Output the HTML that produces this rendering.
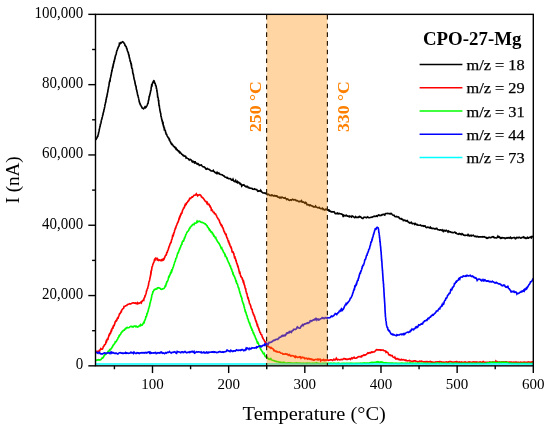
<!DOCTYPE html>
<html lang="en">
<head>
<meta charset="utf-8">
<title>CPO-27-Mg TG-MS</title>
<style>
html,body{margin:0;padding:0;background:#ffffff;}
body{width:550px;height:430px;overflow:hidden;position:relative;}
</style>
</head>
<body>
<svg width="550" height="430" viewBox="0 0 550 430" style="position:absolute;left:0;top:0">
<rect x="0" y="0" width="550" height="430" fill="#ffffff"/>
<clipPath id="c"><rect x="95.5" y="14.35" width="437.79999999999995" height="351.5"/></clipPath>
<g clip-path="url(#c)" fill="none" stroke-linejoin="miter" stroke-miterlimit="2.5" stroke-linecap="butt">
<path d="M95.6,139.6 L96.1,139.3 L96.5,138.5 L96.9,137.9 L97.1,137.4 L97.4,136.7 L97.6,136.6 L97.8,136.5 L97.9,135.4 L98.1,134.8 L98.2,134.6 L98.4,134.0 L98.5,133.5 L98.6,132.5 L98.8,132.2 L98.9,131.9 L99.1,130.7 L99.2,130.0 L99.4,129.0 L99.5,128.4 L99.7,127.7 L99.8,127.4 L99.9,126.6 L100.1,126.4 L100.2,125.8 L100.4,124.7 L100.5,123.6 L100.6,123.9 L100.8,123.7 L100.9,123.2 L101.1,121.9 L101.2,121.7 L101.3,120.7 L101.5,119.9 L101.6,120.3 L101.7,119.2 L101.9,118.8 L102.0,118.6 L102.1,117.5 L102.3,117.0 L102.4,116.7 L102.5,116.2 L102.7,115.2 L102.8,115.1 L103.0,114.7 L103.1,113.0 L103.2,113.4 L103.4,112.3 L103.5,111.7 L103.6,112.0 L103.8,111.2 L103.9,109.9 L104.0,109.7 L104.2,109.3 L104.3,108.5 L104.4,108.2 L104.6,107.3 L104.7,106.9 L104.8,106.4 L104.9,105.1 L105.1,104.6 L105.2,104.2 L105.3,103.7 L105.4,102.9 L105.6,102.7 L105.7,102.2 L105.8,101.8 L105.9,101.3 L106.0,99.7 L106.2,99.4 L106.3,99.1 L106.4,97.8 L106.5,97.7 L106.6,97.4 L106.7,97.2 L106.9,96.6 L107.0,95.6 L107.1,95.0 L107.2,94.6 L107.3,94.4 L107.4,93.2 L107.5,92.8 L107.6,92.5 L107.8,91.8 L107.9,91.2 L108.0,90.1 L108.1,89.6 L108.2,88.9 L108.3,88.8 L108.4,88.2 L108.5,87.3 L108.7,86.8 L108.8,86.0 L108.9,85.7 L109.0,84.9 L109.1,84.3 L109.2,83.4 L109.3,83.1 L109.5,81.8 L109.6,81.0 L109.7,81.2 L109.8,80.6 L109.9,80.6 L110.1,80.7 L110.2,79.1 L110.3,78.2 L110.4,78.0 L110.5,77.6 L110.7,77.0 L110.8,76.4 L110.9,76.1 L111.0,75.6 L111.2,74.5 L111.3,73.9 L111.4,73.5 L111.5,72.5 L111.7,72.1 L111.8,71.2 L111.9,71.2 L112.1,70.3 L112.2,69.4 L112.3,68.6 L112.4,68.2 L112.6,67.1 L112.7,67.0 L112.8,67.1 L113.0,65.9 L113.1,66.0 L113.3,64.6 L113.4,64.6 L113.5,63.5 L113.7,63.4 L113.8,62.6 L114.0,60.8 L114.1,61.9 L114.3,61.5 L114.4,60.4 L114.5,59.7 L114.7,59.0 L114.8,58.4 L115.0,58.4 L115.1,57.1 L115.3,56.7 L115.4,55.9 L115.6,55.4 L115.7,54.8 L115.9,55.5 L116.1,54.1 L116.2,53.7 L116.4,52.7 L116.6,51.7 L116.7,51.1 L116.9,50.8 L117.1,50.5 L117.3,49.7 L117.5,49.2 L117.7,48.5 L117.9,48.1 L118.1,48.4 L118.3,47.1 L118.6,46.3 L118.8,46.2 L119.1,45.9 L119.4,43.8 L119.7,44.1 L120.0,43.5 L120.4,42.8 L120.9,43.2 L121.5,42.7 L122.0,42.1 L122.5,41.8 L123.0,42.1 L123.4,42.2 L123.9,42.9 L124.3,43.5 L124.7,44.0 L125.0,45.5 L125.3,45.5 L125.6,46.0 L125.9,46.4 L126.2,46.7 L126.4,47.4 L126.6,48.3 L126.9,48.7 L127.1,49.4 L127.3,50.2 L127.5,51.0 L127.7,51.5 L127.9,51.9 L128.1,52.1 L128.3,52.4 L128.4,53.7 L128.6,54.5 L128.8,54.6 L128.9,55.3 L129.1,56.2 L129.2,57.0 L129.4,57.4 L129.5,57.6 L129.6,58.9 L129.8,58.6 L129.9,59.8 L130.0,60.3 L130.2,61.0 L130.3,61.6 L130.4,62.0 L130.6,61.5 L130.7,61.8 L130.8,63.3 L131.0,63.4 L131.1,64.2 L131.2,64.8 L131.4,64.6 L131.5,65.2 L131.6,67.1 L131.8,67.8 L131.9,68.3 L132.0,68.8 L132.1,68.6 L132.3,68.7 L132.4,69.6 L132.5,70.1 L132.6,70.6 L132.7,72.3 L132.9,72.9 L133.0,73.7 L133.1,73.8 L133.2,74.2 L133.4,74.6 L133.5,75.2 L133.6,76.2 L133.7,76.5 L133.9,77.6 L134.0,78.3 L134.1,79.5 L134.2,78.8 L134.4,79.9 L134.5,80.2 L134.6,80.8 L134.7,80.9 L134.9,81.9 L135.0,83.0 L135.1,83.4 L135.2,83.9 L135.4,84.4 L135.5,85.4 L135.6,85.5 L135.7,85.3 L135.9,86.3 L136.0,86.3 L136.1,86.5 L136.2,88.1 L136.4,89.5 L136.5,89.7 L136.6,89.7 L136.8,90.3 L136.9,91.6 L137.0,91.8 L137.2,92.2 L137.3,92.9 L137.4,93.7 L137.6,94.6 L137.7,95.2 L137.9,95.6 L138.0,95.7 L138.2,96.7 L138.3,97.1 L138.5,98.2 L138.6,98.0 L138.7,98.9 L138.9,99.6 L139.0,99.9 L139.2,101.5 L139.3,102.0 L139.5,102.1 L139.7,103.2 L139.8,103.5 L140.0,103.1 L140.2,104.6 L140.5,104.9 L140.7,105.2 L140.9,105.3 L141.2,106.1 L141.6,106.7 L142.1,107.9 L142.6,108.3 L143.1,108.4 L143.6,108.8 L144.0,108.1 L144.5,107.6 L145.0,106.9 L145.4,107.7 L145.9,107.3 L146.3,106.8 L146.7,106.2 L147.0,105.6 L147.2,105.1 L147.4,104.4 L147.6,103.9 L147.8,103.5 L148.0,103.4 L148.2,102.5 L148.3,101.4 L148.5,100.5 L148.6,100.0 L148.8,99.9 L148.9,98.9 L149.0,97.8 L149.2,97.0 L149.3,96.2 L149.4,96.0 L149.6,95.9 L149.7,95.1 L149.8,94.5 L150.0,94.1 L150.1,93.9 L150.3,92.6 L150.4,92.4 L150.5,91.8 L150.6,91.6 L150.7,90.5 L150.9,90.4 L151.0,89.9 L151.1,88.6 L151.2,87.7 L151.3,87.3 L151.5,86.6 L151.6,85.6 L151.8,85.8 L152.0,85.8 L152.1,84.5 L152.3,83.8 L152.6,83.0 L152.9,82.6 L153.3,81.5 L153.6,81.1 L154.0,81.9 L154.3,81.5 L154.6,82.5 L154.8,83.2 L155.1,83.5 L155.4,84.2 L155.6,85.5 L155.8,85.5 L156.0,85.8 L156.1,86.1 L156.3,87.3 L156.4,88.5 L156.5,88.9 L156.6,88.7 L156.7,89.3 L156.8,90.1 L156.9,91.0 L157.0,91.4 L157.1,91.9 L157.2,92.5 L157.3,92.9 L157.4,93.4 L157.4,94.1 L157.5,94.7 L157.6,95.7 L157.7,97.7 L157.8,96.9 L157.9,97.2 L158.0,97.3 L158.1,98.4 L158.2,98.1 L158.3,98.8 L158.4,100.6 L158.5,100.9 L158.6,100.8 L158.7,100.8 L158.7,102.0 L158.8,102.8 L158.9,103.8 L159.0,105.1 L159.1,105.1 L159.2,105.3 L159.3,105.7 L159.4,106.8 L159.5,107.4 L159.6,107.8 L159.7,108.4 L159.8,108.8 L159.9,110.1 L160.0,110.6 L160.1,111.2 L160.2,111.3 L160.3,112.0 L160.4,112.5 L160.5,113.0 L160.6,113.2 L160.7,113.4 L160.8,114.0 L160.9,115.4 L161.0,116.0 L161.1,116.8 L161.3,117.6 L161.4,117.4 L161.5,118.1 L161.7,119.1 L161.8,119.7 L162.0,120.1 L162.1,121.1 L162.3,121.5 L162.4,121.4 L162.6,122.2 L162.7,123.6 L162.9,123.7 L163.1,123.5 L163.2,125.2 L163.4,125.8 L163.6,126.6 L163.8,126.5 L163.9,127.1 L164.1,127.6 L164.3,129.2 L164.5,129.0 L164.7,130.6 L164.9,129.7 L165.1,130.3 L165.3,130.5 L165.5,131.6 L165.7,132.7 L165.9,132.8 L166.1,134.1 L166.4,134.3 L166.6,134.3 L166.9,135.0 L167.1,135.7 L167.4,136.4 L167.6,136.6 L167.9,137.1 L168.2,137.7 L168.4,137.7 L168.7,137.9 L169.0,139.1 L169.3,139.9 L169.6,139.8 L169.9,140.8 L170.2,141.5 L170.5,141.9 L170.9,143.0 L171.2,143.1 L171.5,144.0 L171.9,143.8 L172.2,144.7 L172.6,144.7 L172.9,145.1 L173.3,146.0 L173.7,146.2 L174.1,146.8 L174.4,147.1 L174.8,147.0 L175.2,147.7 L175.6,148.6 L176.0,149.1 L176.4,148.6 L176.8,149.7 L177.3,149.8 L177.7,150.7 L178.1,150.7 L178.6,150.8 L179.0,151.9 L179.5,152.6 L179.9,152.1 L180.4,152.6 L180.8,153.2 L181.3,153.5 L181.8,154.4 L182.3,154.6 L182.7,154.9 L183.2,155.6 L183.7,155.5 L184.2,156.2 L184.6,156.0 L185.1,156.0 L185.6,156.3 L186.1,158.0 L186.6,157.7 L187.1,158.1 L187.6,158.4 L188.2,158.7 L188.7,159.3 L189.2,160.0 L189.7,159.4 L190.2,159.3 L190.8,159.7 L191.3,160.0 L191.8,161.1 L192.3,161.8 L192.8,161.2 L193.4,161.4 L193.9,162.2 L194.4,162.8 L195.0,161.4 L195.5,162.8 L196.1,162.9 L196.6,163.7 L197.1,163.5 L197.7,164.1 L198.2,163.8 L198.8,164.4 L199.3,165.4 L199.8,165.4 L200.4,165.1 L200.9,165.1 L201.4,165.0 L202.0,165.9 L202.5,166.6 L203.1,166.7 L203.6,166.9 L204.1,166.8 L204.7,167.5 L205.2,167.9 L205.7,168.9 L206.3,169.2 L206.8,168.7 L207.3,168.5 L207.9,169.0 L208.4,169.2 L209.0,169.3 L209.5,169.7 L210.0,169.9 L210.6,170.7 L211.1,170.7 L211.7,170.9 L212.2,171.1 L212.8,170.9 L213.3,170.4 L213.8,171.4 L214.4,171.7 L214.9,172.3 L215.5,172.8 L216.0,172.7 L216.6,173.4 L217.1,172.5 L217.7,173.5 L218.2,173.4 L218.8,173.0 L219.3,173.8 L219.9,174.2 L220.4,174.4 L221.0,174.5 L221.5,174.6 L222.1,174.7 L222.6,175.2 L223.2,175.4 L223.7,176.0 L224.3,176.1 L224.8,176.9 L225.3,177.2 L225.9,177.2 L226.4,177.5 L227.0,178.0 L227.5,177.6 L228.1,178.3 L228.6,178.7 L229.2,178.6 L229.7,178.7 L230.3,178.6 L230.8,179.1 L231.4,180.0 L231.9,180.1 L232.5,180.2 L233.0,179.2 L233.6,180.7 L234.1,181.3 L234.6,181.5 L235.2,181.3 L235.7,180.5 L236.3,182.2 L236.8,182.3 L237.4,181.6 L237.9,182.8 L238.4,182.3 L239.0,182.5 L239.5,183.0 L240.1,184.0 L240.6,183.6 L241.2,184.3 L241.7,186.1 L242.3,185.4 L242.8,185.0 L243.4,185.2 L243.9,184.8 L244.5,185.5 L245.0,186.2 L245.5,186.6 L246.1,186.4 L246.7,186.9 L247.2,186.3 L247.8,186.7 L248.3,187.7 L248.9,187.5 L249.4,188.0 L250.0,188.2 L250.5,188.1 L251.1,188.4 L251.7,188.3 L252.2,188.4 L252.8,189.2 L253.3,189.3 L253.9,189.4 L254.5,188.8 L255.0,189.3 L255.6,189.4 L256.2,189.5 L256.7,189.5 L257.3,190.5 L257.9,191.3 L258.4,191.2 L259.0,190.8 L259.6,191.1 L260.2,191.3 L260.7,190.3 L261.3,191.4 L261.9,192.1 L262.4,192.4 L263.0,193.0 L263.6,193.0 L264.2,192.8 L264.7,193.1 L265.3,193.5 L265.9,193.1 L266.5,193.4 L267.0,194.3 L267.6,194.7 L268.2,194.2 L268.8,194.5 L269.3,195.0 L269.9,195.3 L270.5,195.3 L271.1,195.7 L271.7,195.0 L272.2,195.1 L272.8,195.5 L273.4,195.9 L274.0,196.0 L274.6,195.4 L275.1,195.6 L275.7,196.1 L276.3,195.9 L276.9,195.9 L277.5,197.0 L278.0,197.0 L278.6,197.3 L279.2,197.1 L279.8,197.8 L280.4,197.4 L281.0,198.0 L281.5,197.3 L282.1,197.2 L282.7,197.5 L283.3,197.7 L283.9,198.2 L284.5,198.1 L285.1,197.7 L285.6,198.6 L286.2,198.7 L286.8,199.5 L287.4,198.9 L288.0,199.1 L288.6,199.8 L289.1,200.2 L289.7,200.4 L290.3,199.9 L290.9,199.9 L291.5,200.2 L292.1,199.7 L292.7,199.2 L293.3,199.6 L293.9,200.0 L294.5,199.8 L295.0,199.6 L295.6,200.0 L296.2,200.7 L296.8,200.4 L297.4,200.6 L298.0,201.2 L298.6,201.6 L299.2,201.4 L299.7,201.6 L300.3,201.4 L300.9,201.2 L301.5,200.7 L302.0,202.0 L302.6,202.1 L303.2,201.9 L303.7,202.3 L304.3,202.6 L304.9,203.2 L305.4,202.4 L306.0,202.7 L306.5,203.5 L307.1,204.9 L307.7,204.8 L308.2,204.6 L308.8,205.1 L309.4,205.5 L309.9,204.8 L310.5,204.9 L311.1,205.7 L311.6,205.8 L312.2,206.1 L312.8,206.1 L313.4,207.0 L313.9,207.0 L314.5,206.8 L315.1,206.8 L315.6,206.1 L316.2,207.1 L316.8,207.3 L317.4,207.6 L317.9,207.8 L318.5,207.7 L319.1,207.4 L319.7,208.2 L320.2,208.2 L320.8,208.6 L321.4,208.6 L322.0,208.7 L322.5,208.3 L323.1,209.4 L323.7,209.2 L324.3,209.8 L324.8,210.0 L325.4,209.6 L326.0,209.0 L326.6,209.5 L327.1,209.5 L327.7,210.1 L328.3,210.4 L328.9,209.4 L329.4,211.2 L330.0,211.0 L330.6,211.6 L331.2,211.8 L331.7,211.7 L332.3,211.9 L332.9,211.8 L333.5,211.9 L334.0,211.7 L334.6,212.5 L335.2,213.5 L335.8,213.7 L336.3,213.7 L336.9,213.3 L337.5,213.0 L338.1,213.9 L338.7,213.5 L339.2,213.4 L339.8,213.7 L340.4,213.8 L341.0,213.9 L341.6,214.1 L342.1,214.2 L342.7,214.8 L343.3,217.0 L343.9,215.2 L344.5,215.5 L345.1,215.7 L345.7,215.8 L346.2,215.1 L346.8,215.6 L347.4,216.2 L348.0,216.1 L348.6,216.3 L349.2,216.8 L349.8,216.1 L350.3,216.3 L350.9,216.5 L351.5,217.0 L352.1,216.0 L352.7,216.4 L353.3,216.5 L353.9,217.0 L354.5,217.6 L355.1,217.5 L355.7,216.6 L356.3,217.4 L356.9,217.2 L357.5,217.2 L358.1,217.5 L358.7,217.0 L359.3,216.4 L359.9,217.0 L360.5,216.8 L361.1,217.3 L361.7,218.0 L362.3,218.2 L362.9,218.5 L363.5,217.8 L364.1,217.1 L364.7,217.3 L365.3,217.4 L365.9,217.3 L366.5,217.7 L367.1,217.4 L367.7,216.9 L368.3,217.6 L368.9,217.7 L369.5,217.7 L370.1,217.5 L370.7,217.5 L371.3,217.1 L371.9,217.4 L372.4,217.0 L373.0,216.8 L373.6,216.6 L374.2,216.1 L374.8,216.3 L375.4,216.3 L376.0,216.2 L376.6,215.8 L377.2,216.4 L377.8,215.8 L378.4,215.1 L378.9,215.0 L379.5,215.5 L380.1,215.6 L380.7,215.3 L381.3,215.3 L381.9,214.7 L382.4,214.9 L383.0,214.4 L383.6,214.3 L384.2,214.7 L384.8,215.1 L385.3,213.7 L385.9,213.5 L386.5,213.5 L387.1,213.7 L387.6,213.3 L388.2,213.5 L388.8,213.6 L389.3,213.6 L389.9,213.8 L390.5,213.8 L391.0,213.3 L391.6,213.8 L392.2,214.5 L392.7,215.0 L393.3,215.2 L393.9,215.1 L394.4,216.0 L395.0,216.5 L395.5,216.7 L396.1,216.6 L396.7,216.4 L397.2,217.0 L397.8,217.0 L398.3,216.9 L398.9,217.3 L399.4,218.4 L400.0,218.6 L400.6,218.9 L401.1,218.6 L401.7,219.3 L402.2,219.1 L402.8,219.5 L403.3,220.6 L403.9,220.5 L404.4,220.1 L405.0,220.3 L405.5,220.7 L406.1,221.2 L406.7,220.8 L407.2,220.6 L407.8,221.5 L408.3,222.0 L408.9,222.4 L409.5,223.0 L410.0,222.7 L410.6,222.8 L411.2,222.3 L411.7,223.1 L412.3,223.7 L412.9,223.5 L413.5,223.5 L414.0,223.6 L414.6,224.4 L415.2,223.5 L415.8,223.9 L416.3,224.6 L416.9,224.9 L417.5,224.5 L418.1,225.2 L418.7,225.2 L419.2,225.2 L419.8,225.2 L420.4,225.0 L421.0,225.6 L421.6,225.9 L422.2,225.6 L422.7,225.9 L423.3,226.3 L423.9,225.8 L424.5,226.2 L425.1,226.0 L425.7,227.0 L426.3,227.6 L426.8,227.7 L427.4,227.1 L428.0,227.3 L428.6,227.4 L429.2,227.6 L429.8,228.0 L430.4,227.3 L430.9,228.2 L431.5,228.1 L432.1,228.6 L432.7,228.4 L433.3,228.3 L433.9,228.5 L434.5,228.8 L435.0,228.8 L435.6,228.9 L436.2,228.3 L436.8,228.3 L437.4,229.4 L438.0,229.7 L438.6,229.8 L439.2,230.0 L439.7,230.2 L440.3,229.9 L440.9,229.8 L441.5,230.2 L442.1,230.7 L442.7,230.0 L443.3,231.3 L443.9,230.4 L444.5,230.3 L445.1,231.1 L445.6,230.8 L446.2,230.2 L446.8,230.6 L447.4,231.3 L448.0,232.1 L448.6,231.1 L449.2,231.6 L449.8,231.8 L450.4,231.8 L450.9,232.2 L451.5,232.4 L452.1,232.4 L452.7,232.6 L453.3,232.7 L453.9,232.5 L454.5,232.1 L455.1,232.2 L455.6,233.1 L456.2,232.9 L456.8,233.7 L457.4,234.0 L458.0,234.0 L458.6,234.2 L459.2,233.5 L459.8,233.8 L460.3,233.8 L460.9,234.6 L461.5,234.7 L462.1,233.6 L462.7,234.0 L463.3,234.8 L463.9,235.2 L464.5,235.4 L465.0,235.2 L465.6,235.3 L466.2,235.2 L466.8,235.2 L467.4,235.4 L468.0,234.5 L468.6,235.5 L469.2,235.4 L469.8,235.9 L470.4,235.5 L471.0,235.3 L471.6,235.9 L472.1,235.6 L472.7,235.5 L473.3,235.3 L473.9,235.9 L474.5,236.2 L475.1,236.5 L475.7,236.3 L476.3,236.8 L476.9,236.5 L477.5,236.4 L478.1,236.7 L478.7,237.0 L479.3,236.8 L479.9,236.8 L480.5,236.9 L481.1,237.0 L481.7,236.8 L482.3,237.0 L482.9,236.6 L483.5,236.9 L484.1,236.6 L484.7,237.0 L485.3,237.3 L485.9,237.3 L486.5,238.2 L487.1,237.8 L487.7,238.2 L488.3,237.9 L488.9,237.3 L489.5,237.3 L490.1,237.7 L490.7,237.6 L491.3,237.4 L491.9,237.1 L492.5,236.7 L493.1,237.1 L493.7,236.8 L494.3,237.8 L494.9,237.7 L495.5,237.7 L496.1,238.0 L496.7,238.0 L497.3,237.3 L497.9,236.1 L498.5,237.1 L499.1,236.8 L499.7,237.4 L500.3,238.3 L500.9,237.7 L501.5,238.1 L502.1,237.5 L502.7,237.9 L503.3,237.7 L503.9,237.7 L504.5,238.0 L505.1,238.6 L505.7,238.1 L506.3,238.1 L506.9,237.7 L507.5,238.0 L508.1,237.7 L508.7,237.9 L509.3,237.7 L509.9,238.1 L510.5,237.2 L511.1,237.8 L511.7,238.4 L512.3,237.9 L512.9,237.7 L513.5,237.7 L514.1,237.4 L514.7,237.9 L515.3,238.8 L515.9,238.5 L516.5,237.5 L517.1,237.4 L517.7,237.7 L518.3,237.9 L518.9,237.2 L519.5,237.2 L520.1,237.9 L520.7,238.1 L521.3,238.0 L521.9,237.4 L522.5,237.3 L523.1,237.5 L523.7,237.0 L524.3,237.8 L524.9,237.6 L525.5,238.0 L526.1,238.5 L526.7,238.2 L527.3,237.4 L527.9,238.1 L528.5,238.1 L529.1,237.4 L529.7,237.3 L530.3,237.5 L530.9,237.0 L531.5,237.7 L532.1,236.4 L532.7,236.6 L533.2,236.9" stroke="#000000" stroke-width="1.65"/>
<path d="M95.6,352.5 L96.1,352.5 L96.6,352.3 L97.1,351.3 L97.6,351.7 L98.1,351.9 L98.7,351.2 L99.2,350.5 L99.8,350.7 L100.3,349.3 L100.8,348.6 L101.3,349.1 L101.8,349.2 L102.2,349.2 L102.5,349.0 L102.9,348.0 L103.2,347.0 L103.5,346.6 L103.9,346.0 L104.2,345.7 L104.5,344.7 L104.7,344.7 L105.0,344.6 L105.3,344.2 L105.6,343.7 L105.8,342.6 L106.1,341.6 L106.3,341.0 L106.6,341.4 L106.8,340.8 L107.1,339.9 L107.4,340.4 L107.6,339.1 L107.9,339.8 L108.1,338.1 L108.4,337.1 L108.7,336.7 L108.9,335.4 L109.2,334.6 L109.4,334.2 L109.7,334.5 L109.9,334.0 L110.2,333.6 L110.4,332.9 L110.7,332.9 L110.9,331.6 L111.1,330.9 L111.4,331.2 L111.6,330.9 L111.9,329.6 L112.1,328.3 L112.4,328.2 L112.6,328.0 L112.9,327.3 L113.1,327.5 L113.4,326.1 L113.6,326.2 L113.9,325.4 L114.2,325.4 L114.5,324.4 L114.7,323.9 L115.0,322.5 L115.3,321.6 L115.6,321.4 L115.8,321.0 L116.1,320.6 L116.4,321.0 L116.7,320.7 L117.0,319.5 L117.3,318.5 L117.6,318.1 L117.9,317.6 L118.2,317.8 L118.4,316.9 L118.7,316.4 L119.0,315.5 L119.3,314.4 L119.6,313.6 L119.9,313.6 L120.2,313.5 L120.5,312.8 L120.8,312.0 L121.1,311.5 L121.4,311.6 L121.7,310.2 L122.0,309.8 L122.3,309.4 L122.6,308.8 L122.9,308.7 L123.2,308.5 L123.6,308.2 L124.0,306.6 L124.4,306.7 L124.8,306.4 L125.3,306.0 L125.8,305.7 L126.3,305.5 L126.8,305.5 L127.3,304.6 L127.9,304.4 L128.4,304.2 L129.0,304.0 L129.6,303.7 L130.1,304.1 L130.7,303.7 L131.3,303.7 L131.9,303.2 L132.5,303.0 L133.1,302.8 L133.7,302.8 L134.3,303.2 L134.9,303.1 L135.5,303.0 L136.2,303.7 L136.8,303.4 L137.4,302.7 L137.9,303.8 L138.5,303.2 L139.1,302.9 L139.7,303.2 L140.3,302.7 L140.9,302.1 L141.4,302.7 L141.8,301.3 L142.2,301.2 L142.6,301.1 L142.9,300.3 L143.2,300.1 L143.5,299.8 L143.8,300.0 L144.0,298.4 L144.3,297.9 L144.5,297.7 L144.8,296.9 L145.0,295.9 L145.2,295.9 L145.4,295.3 L145.6,294.7 L145.8,294.2 L146.0,293.5 L146.2,292.7 L146.4,291.8 L146.6,290.7 L146.7,290.7 L146.9,290.4 L147.1,289.6 L147.2,289.2 L147.4,288.4 L147.6,288.8 L147.7,288.3 L147.9,286.7 L148.0,286.5 L148.2,285.9 L148.3,285.8 L148.5,285.2 L148.6,284.1 L148.7,283.2 L148.9,282.6 L149.0,281.6 L149.2,282.0 L149.3,281.1 L149.4,280.7 L149.6,280.2 L149.7,279.9 L149.8,278.7 L150.0,278.3 L150.1,277.3 L150.2,277.1 L150.4,276.2 L150.5,275.8 L150.6,275.3 L150.7,274.7 L150.8,273.3 L150.9,273.4 L151.0,272.4 L151.1,272.5 L151.2,271.1 L151.3,270.7 L151.5,270.0 L151.6,270.6 L151.7,269.1 L151.8,268.6 L151.9,267.6 L152.1,266.7 L152.2,266.6 L152.3,266.5 L152.5,265.9 L152.6,265.5 L152.8,264.6 L153.0,264.1 L153.2,263.4 L153.4,263.1 L153.6,262.9 L153.9,261.9 L154.2,260.8 L154.4,259.9 L154.8,259.3 L155.1,259.7 L155.4,258.4 L155.8,258.1 L156.1,258.3 L156.6,258.5 L157.1,259.6 L157.6,258.9 L158.1,260.1 L158.7,260.5 L159.2,260.1 L159.8,260.0 L160.4,260.5 L161.1,260.7 L161.7,259.6 L162.3,259.3 L162.8,260.3 L163.2,260.1 L163.6,259.2 L163.9,258.1 L164.2,258.6 L164.5,257.7 L164.8,257.3 L165.1,256.2 L165.4,255.6 L165.8,255.1 L166.1,255.1 L166.4,254.7 L166.7,252.7 L166.9,252.5 L167.2,252.9 L167.4,251.6 L167.6,250.8 L167.8,250.6 L168.0,250.1 L168.2,249.5 L168.4,249.0 L168.5,248.3 L168.7,248.0 L168.9,247.6 L169.0,246.7 L169.2,246.3 L169.4,245.9 L169.6,245.8 L169.8,244.9 L170.0,244.0 L170.2,243.8 L170.4,243.3 L170.6,242.9 L170.9,242.3 L171.1,242.3 L171.3,241.3 L171.5,240.1 L171.8,239.3 L172.0,239.1 L172.2,238.4 L172.4,237.5 L172.6,235.7 L172.8,235.8 L173.0,236.1 L173.2,235.8 L173.3,235.5 L173.5,233.9 L173.7,233.9 L173.9,232.8 L174.1,232.7 L174.3,232.0 L174.5,231.1 L174.6,230.5 L174.8,229.7 L175.0,229.3 L175.2,228.6 L175.4,228.7 L175.6,228.2 L175.8,227.9 L175.9,227.1 L176.1,226.3 L176.3,226.0 L176.5,225.5 L176.7,225.2 L176.9,224.8 L177.1,223.7 L177.3,223.5 L177.6,222.9 L177.8,222.2 L178.0,222.1 L178.3,221.8 L178.5,220.7 L178.8,219.8 L179.0,218.6 L179.3,218.7 L179.5,218.0 L179.7,216.8 L180.0,217.0 L180.2,216.4 L180.4,215.5 L180.6,214.8 L180.9,214.1 L181.1,214.2 L181.3,213.2 L181.5,213.2 L181.7,213.7 L182.0,212.5 L182.2,211.8 L182.5,210.8 L182.7,209.8 L183.0,209.4 L183.2,209.1 L183.5,208.2 L183.8,208.3 L184.0,208.1 L184.3,207.6 L184.6,206.0 L184.9,205.5 L185.2,204.7 L185.5,205.2 L185.8,204.8 L186.2,204.3 L186.5,203.2 L186.8,202.7 L187.1,202.7 L187.5,202.1 L187.8,201.3 L188.2,201.2 L188.6,200.9 L189.0,200.2 L189.3,199.3 L189.7,198.4 L190.2,198.7 L190.6,198.6 L191.0,197.8 L191.5,197.5 L192.0,197.0 L192.5,197.1 L193.0,196.5 L193.5,196.0 L194.0,195.3 L194.6,195.2 L195.1,195.2 L195.7,194.7 L196.3,193.8 L196.9,194.8 L197.5,195.7 L198.0,195.0 L198.6,195.3 L199.2,194.9 L199.8,194.7 L200.3,194.9 L200.9,195.4 L201.4,196.8 L201.9,197.0 L202.3,197.7 L202.8,198.0 L203.2,198.1 L203.6,198.6 L204.0,199.3 L204.3,199.8 L204.7,200.4 L205.0,200.9 L205.4,201.2 L205.8,201.3 L206.1,201.9 L206.5,202.2 L206.9,203.2 L207.3,202.5 L207.8,203.5 L208.2,205.1 L208.6,204.4 L209.1,204.4 L209.5,205.5 L209.9,206.5 L210.2,206.3 L210.5,207.1 L210.8,207.5 L211.1,208.0 L211.4,211.2 L211.7,209.5 L212.0,209.7 L212.3,210.3 L212.7,211.0 L213.0,211.6 L213.4,212.3 L213.8,212.4 L214.1,212.4 L214.5,213.6 L214.9,213.6 L215.2,213.9 L215.6,214.0 L215.9,214.6 L216.2,215.1 L216.5,216.0 L216.7,216.1 L217.0,217.0 L217.3,217.6 L217.5,217.8 L217.8,218.2 L218.1,218.7 L218.3,219.7 L218.6,219.1 L218.9,220.1 L219.3,220.5 L219.6,221.7 L219.9,222.8 L220.2,223.0 L220.5,223.8 L220.8,224.2 L221.1,225.4 L221.4,225.7 L221.7,226.0 L221.9,225.5 L222.2,226.0 L222.4,227.3 L222.6,227.4 L222.9,227.7 L223.1,228.5 L223.3,228.7 L223.5,229.9 L223.7,230.4 L223.9,231.2 L224.2,231.3 L224.4,232.1 L224.7,232.2 L224.9,233.1 L225.2,233.6 L225.4,234.2 L225.7,234.4 L226.0,235.0 L226.2,234.8 L226.5,236.6 L226.7,236.9 L227.0,237.9 L227.2,238.3 L227.5,238.5 L227.7,239.5 L228.0,240.3 L228.2,241.0 L228.4,240.7 L228.6,240.9 L228.8,242.0 L229.0,242.3 L229.2,243.6 L229.4,243.5 L229.7,243.8 L229.9,245.2 L230.1,245.7 L230.3,245.3 L230.5,246.6 L230.7,246.7 L231.0,247.6 L231.2,247.5 L231.4,247.9 L231.7,249.4 L231.9,250.6 L232.1,251.7 L232.3,252.1 L232.6,251.9 L232.8,251.9 L233.0,251.9 L233.2,252.5 L233.5,253.0 L233.7,253.8 L233.9,253.8 L234.1,255.4 L234.3,256.1 L234.5,257.3 L234.7,257.2 L234.9,257.1 L235.1,258.3 L235.3,258.3 L235.5,258.9 L235.7,259.3 L235.8,260.8 L236.0,260.9 L236.2,260.9 L236.4,261.9 L236.6,262.9 L236.8,263.3 L237.0,263.8 L237.1,263.8 L237.3,264.5 L237.5,265.3 L237.7,266.2 L237.9,266.1 L238.1,266.7 L238.2,267.8 L238.4,267.5 L238.6,269.1 L238.8,269.6 L239.0,270.5 L239.2,271.6 L239.4,272.5 L239.6,272.3 L239.8,272.2 L240.0,273.0 L240.2,273.9 L240.4,275.0 L240.6,275.5 L240.8,276.3 L241.0,276.2 L241.2,276.4 L241.4,277.1 L241.6,277.4 L241.8,277.7 L242.0,277.7 L242.3,279.1 L242.5,279.1 L242.7,280.0 L242.9,280.1 L243.1,281.4 L243.3,281.3 L243.5,282.2 L243.7,282.0 L243.9,282.9 L244.1,284.2 L244.2,284.2 L244.4,285.1 L244.6,285.7 L244.8,285.8 L244.9,287.2 L245.1,287.8 L245.2,287.9 L245.4,288.7 L245.6,288.7 L245.7,288.7 L245.9,290.4 L246.0,291.0 L246.2,292.4 L246.4,291.9 L246.5,293.2 L246.7,293.8 L246.8,293.3 L247.0,294.1 L247.2,295.2 L247.3,295.6 L247.5,296.5 L247.7,297.4 L247.8,297.3 L248.0,297.6 L248.2,297.7 L248.4,299.1 L248.5,299.1 L248.7,300.0 L248.9,300.8 L249.1,301.0 L249.3,302.7 L249.5,303.3 L249.7,303.9 L249.8,303.5 L250.0,304.1 L250.2,304.5 L250.4,305.3 L250.6,305.5 L250.8,306.8 L251.0,307.4 L251.2,308.1 L251.4,308.3 L251.6,309.2 L251.8,309.3 L252.0,308.9 L252.2,310.1 L252.4,311.1 L252.6,312.2 L252.8,312.4 L253.0,312.8 L253.2,313.4 L253.4,314.3 L253.6,314.3 L253.8,314.6 L254.0,315.1 L254.2,316.1 L254.4,316.3 L254.6,315.9 L254.8,318.1 L255.1,318.4 L255.3,319.3 L255.5,320.0 L255.7,320.8 L255.9,321.3 L256.1,321.1 L256.3,321.7 L256.5,321.9 L256.7,323.5 L256.9,323.8 L257.1,324.8 L257.3,324.6 L257.5,324.6 L257.7,326.4 L257.9,326.6 L258.1,327.0 L258.3,327.6 L258.5,328.6 L258.7,329.0 L258.9,328.9 L259.1,330.1 L259.3,330.2 L259.5,330.7 L259.8,332.1 L260.0,332.4 L260.2,332.5 L260.5,332.7 L260.7,333.9 L261.0,334.5 L261.2,334.6 L261.5,334.1 L261.8,335.3 L262.0,335.8 L262.3,336.9 L262.6,337.6 L262.9,338.3 L263.1,338.3 L263.4,339.0 L263.7,339.6 L264.0,339.9 L264.3,340.5 L264.6,341.4 L264.9,341.5 L265.2,342.1 L265.4,342.1 L265.8,342.8 L266.1,343.0 L266.4,344.1 L266.7,345.2 L267.1,346.0 L267.5,346.2 L267.9,346.4 L268.4,346.6 L268.8,346.8 L269.3,347.1 L269.8,347.6 L270.3,347.4 L270.8,348.2 L271.3,347.6 L271.8,348.0 L272.3,348.6 L272.8,348.7 L273.3,349.3 L273.9,350.6 L274.4,350.3 L274.9,350.8 L275.5,351.4 L276.0,351.5 L276.6,351.2 L277.1,352.0 L277.7,351.8 L278.2,352.0 L278.8,352.2 L279.4,352.0 L280.0,352.4 L280.5,352.9 L281.1,353.2 L281.7,353.2 L282.3,353.3 L282.9,354.2 L283.5,354.1 L284.1,354.2 L284.7,354.1 L285.2,353.7 L285.8,354.0 L286.4,354.3 L287.0,354.0 L287.6,354.3 L288.2,355.2 L288.7,354.7 L289.3,354.5 L289.9,355.4 L290.5,355.9 L291.1,355.5 L291.7,355.9 L292.2,355.7 L292.8,355.6 L293.4,355.9 L294.0,356.2 L294.6,357.0 L295.2,356.3 L295.7,357.3 L296.3,356.5 L296.9,356.9 L297.5,357.4 L298.1,357.5 L298.7,357.1 L299.3,356.7 L299.8,357.2 L300.4,356.9 L301.0,358.2 L301.6,357.4 L302.2,357.6 L302.8,357.3 L303.4,357.7 L304.0,357.6 L304.6,358.6 L305.2,358.3 L305.7,358.5 L306.3,358.2 L306.9,358.5 L307.5,359.1 L308.1,358.6 L308.7,358.5 L309.3,359.2 L309.9,358.7 L310.5,359.0 L311.1,359.4 L311.7,359.0 L312.3,359.8 L312.9,359.5 L313.5,360.1 L314.1,360.1 L314.7,359.7 L315.3,359.5 L315.9,359.3 L316.5,359.6 L317.1,359.8 L317.7,359.2 L318.3,359.8 L318.9,359.2 L319.5,359.3 L320.1,359.2 L320.7,361.0 L321.3,360.1 L321.9,360.1 L322.5,359.9 L323.1,360.3 L323.7,359.5 L324.3,360.1 L324.9,360.6 L325.5,359.9 L326.1,360.0 L326.7,360.2 L327.3,359.7 L327.9,360.1 L328.5,360.4 L329.1,360.3 L329.7,360.0 L330.3,359.8 L330.9,359.8 L331.5,359.8 L332.1,360.1 L332.7,360.5 L333.3,359.8 L333.9,359.2 L334.5,359.9 L335.1,359.9 L335.7,359.3 L336.3,358.2 L336.9,359.3 L337.4,359.9 L338.0,359.4 L338.6,359.5 L339.2,359.7 L339.8,359.9 L340.4,359.6 L341.0,359.6 L341.6,359.3 L342.2,359.6 L342.8,359.5 L343.4,359.0 L344.0,358.4 L344.6,358.7 L345.2,359.2 L345.8,359.0 L346.4,359.3 L347.0,359.2 L347.6,359.4 L348.2,359.1 L348.8,359.1 L349.4,358.6 L350.0,358.7 L350.6,359.3 L351.2,358.3 L351.8,357.9 L352.4,358.6 L353.0,358.1 L353.6,357.5 L354.2,357.3 L354.8,358.2 L355.3,358.2 L355.9,358.2 L356.5,357.9 L357.1,357.8 L357.7,357.0 L358.3,357.0 L358.8,356.6 L359.4,356.6 L360.0,356.7 L360.6,356.8 L361.2,356.1 L361.7,356.6 L362.3,355.7 L362.9,355.5 L363.4,355.4 L364.0,354.9 L364.6,355.3 L365.1,355.2 L365.7,354.7 L366.3,354.6 L366.8,354.0 L367.4,353.4 L367.9,352.9 L368.5,353.3 L369.1,352.8 L369.6,352.6 L370.2,352.9 L370.7,352.9 L371.3,351.9 L371.8,351.8 L372.3,352.3 L372.9,352.1 L373.4,352.0 L374.0,351.9 L374.5,351.7 L375.1,351.0 L375.7,350.6 L376.3,349.7 L376.8,349.6 L377.4,349.7 L378.0,350.0 L378.6,349.8 L379.2,349.9 L379.8,349.8 L380.4,350.3 L381.0,349.9 L381.5,350.1 L382.1,350.1 L382.7,350.0 L383.3,350.0 L383.9,350.7 L384.4,350.8 L385.0,350.9 L385.5,351.1 L386.0,352.2 L386.5,351.6 L386.9,352.0 L387.4,352.5 L387.8,352.5 L388.3,353.5 L388.7,354.6 L389.2,354.9 L389.7,354.9 L390.1,355.3 L390.6,355.1 L391.1,355.6 L391.7,355.5 L392.2,355.5 L392.7,356.7 L393.2,357.1 L393.7,357.4 L394.3,357.7 L394.8,357.1 L395.3,358.3 L395.9,359.1 L396.4,358.9 L397.0,358.5 L397.6,358.7 L398.1,359.3 L398.7,359.2 L399.3,359.7 L399.9,359.5 L400.5,359.9 L401.1,359.9 L401.7,359.3 L402.3,359.8 L402.9,359.7 L403.5,359.6 L404.1,360.0 L404.7,360.1 L405.3,360.5 L405.9,360.0 L406.5,360.6 L407.1,360.9 L407.7,360.7 L408.3,360.7 L408.9,360.6 L409.5,360.4 L410.0,360.9 L410.6,361.0 L411.2,361.2 L411.8,361.6 L412.4,361.3 L413.0,361.2 L413.6,361.4 L414.2,360.8 L414.8,360.8 L415.4,360.9 L416.0,361.2 L416.6,361.5 L417.2,361.5 L417.8,361.8 L418.4,361.7 L419.0,361.4 L419.6,361.2 L420.2,361.3 L420.8,361.3 L421.4,361.2 L422.0,361.4 L422.6,361.5 L423.2,361.7 L423.8,362.0 L424.4,361.9 L425.0,361.6 L425.6,361.8 L426.2,361.6 L426.8,361.8 L427.4,361.6 L428.0,361.8 L428.6,361.8 L429.2,361.9 L429.8,361.6 L430.4,361.5 L431.0,362.0 L431.6,361.9 L432.2,362.1 L432.8,362.0 L433.4,362.2 L434.0,362.4 L434.6,362.2 L435.2,362.2 L435.8,361.8 L436.4,362.0 L437.0,361.9 L437.6,361.8 L438.2,361.8 L438.8,361.9 L439.4,362.0 L440.0,361.5 L440.6,361.7 L441.2,361.8 L441.8,362.2 L442.4,362.1 L443.0,362.2 L443.6,362.1 L444.2,362.3 L444.8,362.2 L445.4,362.0 L446.0,362.0 L446.6,361.9 L447.2,362.1 L447.8,362.2 L448.4,361.9 L449.0,362.1 L449.6,361.5 L450.2,361.5 L450.8,361.6 L451.4,361.9 L452.0,362.0 L452.6,362.1 L453.2,362.0 L453.8,362.2 L454.4,362.0 L455.0,361.7 L455.6,361.7 L456.2,362.3 L456.8,361.6 L457.4,361.9 L458.0,362.3 L458.6,362.2 L459.2,361.9 L459.8,362.1 L460.4,362.3 L461.0,362.3 L461.6,362.0 L462.2,362.2 L462.8,362.3 L463.4,362.3 L464.0,362.3 L464.6,362.0 L465.2,361.8 L465.8,362.2 L466.4,362.5 L467.0,362.4 L467.6,362.3 L468.2,362.6 L468.8,362.0 L469.4,362.3 L470.0,362.0 L470.6,362.2 L471.2,362.2 L471.8,362.4 L472.4,362.1 L473.0,362.0 L473.6,361.8 L474.2,362.1 L474.8,362.1 L475.4,362.2 L476.0,361.9 L476.6,362.0 L477.2,362.4 L477.8,362.1 L478.4,362.2 L479.0,362.2 L479.6,362.0 L480.2,361.8 L480.8,362.2 L481.4,362.2 L482.0,362.4 L482.6,362.0 L483.2,361.5 L483.8,362.0 L484.4,362.2 L485.0,362.4 L485.6,362.4 L486.2,362.2 L486.8,362.2 L487.4,362.3 L488.0,362.2 L488.6,362.2 L489.2,362.2 L489.8,361.9 L490.4,362.2 L491.0,362.4 L491.6,362.2 L492.2,362.1 L492.8,361.9 L493.4,362.1 L494.0,362.5 L494.6,362.3 L495.2,362.1 L495.8,361.1 L496.4,362.0 L497.0,361.7 L497.6,361.8 L498.2,362.3 L498.8,362.2 L499.4,361.9 L500.0,362.3 L500.6,362.3 L501.2,362.0 L501.8,362.3 L502.4,362.0 L503.0,361.9 L503.6,361.9 L504.2,362.0 L504.8,362.2 L505.4,361.9 L506.0,361.9 L506.6,361.9 L507.2,362.2 L507.8,362.2 L508.4,362.4 L509.0,362.1 L509.6,362.0 L510.2,362.1 L510.8,362.1 L511.4,362.0 L512.0,362.3 L512.6,362.5 L513.2,362.2 L513.8,362.4 L514.4,362.5 L515.0,362.1 L515.6,362.1 L516.2,362.0 L516.8,362.3 L517.4,362.3 L518.0,362.3 L518.6,362.3 L519.2,362.6 L519.8,362.5 L520.4,362.2 L521.0,362.3 L521.6,362.4 L522.2,362.5 L522.8,362.3 L523.4,362.2 L524.0,362.1 L524.6,362.0 L525.2,362.2 L525.8,362.2 L526.4,362.3 L527.0,362.2 L527.6,362.2 L528.2,361.8 L528.8,362.0 L529.4,362.2 L530.0,362.1 L530.6,362.2 L531.2,362.0 L531.8,362.2 L532.4,361.9 L533.0,361.9 L533.2,362.1" stroke="#ff0000" stroke-width="1.65"/>
<path d="M95.6,360.7 L96.2,360.3 L96.7,360.0 L97.3,360.1 L97.9,359.8 L98.5,359.7 L99.1,360.1 L99.7,359.9 L100.3,359.9 L100.8,359.5 L101.3,359.1 L101.8,358.5 L102.2,357.9 L102.6,358.1 L103.1,357.6 L103.5,357.1 L103.9,356.2 L104.3,355.3 L104.7,354.7 L105.1,354.7 L105.5,354.6 L106.0,353.8 L106.4,353.6 L106.8,353.4 L107.3,352.6 L107.7,352.0 L108.1,351.5 L108.6,351.9 L109.0,351.2 L109.4,350.5 L109.8,349.1 L110.2,349.9 L110.5,349.8 L110.9,348.9 L111.3,348.4 L111.6,348.2 L112.0,347.2 L112.3,347.0 L112.7,346.6 L113.0,345.3 L113.3,345.0 L113.7,344.8 L114.0,344.3 L114.3,343.8 L114.7,343.5 L115.0,343.0 L115.3,341.8 L115.7,341.9 L116.0,341.7 L116.3,341.5 L116.6,341.0 L117.0,339.8 L117.3,339.6 L117.6,339.1 L117.9,338.2 L118.2,337.6 L118.5,337.3 L118.8,337.1 L119.1,335.8 L119.5,335.9 L119.8,335.2 L120.1,334.7 L120.4,334.5 L120.8,333.9 L121.1,332.9 L121.5,332.4 L121.9,332.1 L122.3,331.3 L122.7,331.3 L123.1,330.7 L123.5,330.4 L123.9,330.1 L124.4,330.1 L124.8,329.3 L125.3,328.7 L125.8,328.8 L126.3,327.9 L126.8,327.6 L127.3,327.4 L127.8,327.9 L128.4,327.8 L129.0,327.5 L129.6,327.1 L130.2,326.6 L130.8,326.3 L131.4,326.4 L132.0,326.8 L132.6,326.7 L133.2,327.0 L133.8,326.3 L134.4,326.1 L135.0,326.1 L135.6,326.7 L136.2,326.2 L136.8,326.8 L137.4,327.0 L138.0,326.6 L138.6,326.6 L139.2,325.8 L139.8,325.9 L140.4,324.7 L140.9,325.6 L141.5,325.2 L141.9,324.7 L142.3,324.9 L142.7,324.4 L143.0,323.6 L143.4,323.2 L143.7,322.2 L144.0,322.1 L144.3,322.3 L144.5,320.9 L144.8,320.4 L145.0,319.7 L145.3,319.5 L145.5,318.6 L145.7,317.7 L145.9,316.0 L146.1,316.6 L146.3,316.6 L146.5,315.9 L146.7,315.7 L146.8,314.9 L147.0,313.2 L147.2,313.9 L147.4,313.3 L147.5,312.6 L147.7,312.2 L147.9,311.8 L148.0,311.0 L148.2,310.9 L148.4,309.8 L148.6,308.6 L148.7,308.5 L148.9,307.9 L149.0,307.3 L149.2,307.0 L149.4,306.1 L149.5,305.7 L149.7,305.7 L149.8,304.2 L150.0,303.2 L150.1,302.9 L150.3,302.8 L150.4,302.0 L150.6,301.1 L150.7,300.8 L150.9,300.3 L151.0,299.8 L151.2,299.3 L151.3,298.3 L151.4,297.8 L151.6,297.3 L151.7,296.7 L151.8,294.9 L152.0,295.3 L152.1,294.7 L152.2,294.7 L152.4,294.3 L152.5,293.7 L152.7,292.8 L152.9,291.8 L153.1,291.8 L153.4,291.1 L153.6,290.6 L154.0,289.9 L154.3,289.6 L154.7,289.8 L155.1,289.4 L155.6,288.9 L156.2,289.2 L156.8,289.0 L157.4,287.8 L158.0,287.9 L158.6,287.6 L159.2,288.0 L159.7,288.1 L160.3,288.5 L160.9,289.2 L161.5,289.3 L162.1,289.1 L162.7,288.9 L163.3,288.7 L163.8,288.5 L164.2,288.2 L164.5,287.7 L164.9,287.2 L165.1,286.3 L165.4,286.5 L165.7,286.2 L165.9,285.0 L166.1,284.0 L166.4,283.9 L166.6,282.6 L166.8,281.4 L167.1,281.8 L167.3,281.5 L167.6,280.8 L167.8,280.4 L168.1,279.5 L168.3,278.7 L168.5,277.5 L168.8,276.8 L169.0,277.1 L169.2,276.8 L169.5,275.7 L169.7,275.4 L169.9,275.2 L170.2,274.0 L170.4,273.4 L170.6,273.6 L170.8,273.2 L171.1,272.3 L171.3,271.3 L171.5,271.5 L171.7,270.6 L171.9,270.8 L172.1,270.0 L172.4,269.4 L172.6,268.7 L172.8,267.8 L173.0,267.6 L173.2,267.1 L173.4,266.5 L173.6,266.1 L173.8,265.0 L174.0,264.7 L174.2,264.0 L174.4,263.1 L174.6,262.5 L174.8,262.0 L175.0,261.6 L175.2,261.2 L175.4,260.7 L175.6,259.8 L175.7,259.1 L175.9,258.3 L176.2,258.1 L176.4,258.0 L176.6,257.4 L176.8,256.7 L177.0,255.7 L177.2,254.9 L177.4,254.3 L177.6,253.5 L177.8,253.1 L178.0,253.1 L178.3,252.4 L178.5,252.7 L178.7,251.2 L178.9,250.9 L179.1,250.2 L179.4,249.8 L179.6,248.8 L179.8,248.8 L180.0,248.2 L180.2,247.4 L180.5,247.2 L180.7,246.8 L180.9,245.7 L181.2,245.4 L181.4,244.8 L181.6,244.2 L181.9,244.2 L182.1,242.3 L182.3,242.1 L182.6,241.3 L182.8,241.4 L183.1,241.4 L183.3,241.9 L183.5,240.5 L183.8,240.2 L184.0,240.0 L184.3,238.2 L184.5,238.0 L184.8,238.5 L185.0,236.9 L185.3,236.3 L185.5,235.9 L185.8,234.6 L186.1,234.2 L186.3,233.9 L186.6,233.3 L186.9,232.3 L187.2,232.1 L187.5,231.6 L187.8,231.4 L188.1,231.2 L188.4,230.7 L188.8,230.1 L189.1,229.0 L189.5,228.4 L189.8,228.4 L190.2,227.2 L190.6,227.1 L191.0,226.5 L191.4,226.0 L191.8,225.9 L192.2,225.1 L192.7,224.6 L193.1,224.3 L193.5,224.2 L194.0,224.6 L194.5,223.3 L195.0,223.4 L195.5,223.2 L196.0,223.2 L196.6,222.3 L197.1,221.2 L197.7,222.0 L198.2,221.3 L198.8,221.4 L199.3,221.1 L199.9,221.4 L200.5,221.6 L201.0,222.2 L201.6,222.4 L202.2,222.3 L202.8,222.7 L203.3,222.8 L203.9,223.1 L204.4,223.5 L204.9,223.8 L205.3,223.8 L205.7,224.4 L206.2,225.0 L206.6,225.3 L207.0,225.6 L207.4,226.8 L207.7,226.9 L208.1,227.6 L208.5,228.1 L208.8,228.8 L209.2,228.8 L209.5,230.2 L209.9,230.0 L210.2,230.1 L210.6,231.0 L210.9,231.9 L211.3,231.7 L211.6,231.7 L212.0,232.3 L212.3,233.4 L212.6,233.2 L213.0,233.9 L213.3,234.5 L213.6,235.7 L214.0,235.6 L214.3,236.4 L214.6,236.5 L214.9,236.8 L215.2,237.9 L215.6,238.1 L215.9,237.9 L216.2,239.0 L216.5,239.8 L216.8,239.9 L217.2,240.9 L217.5,241.5 L217.8,241.8 L218.1,242.3 L218.4,242.5 L218.7,243.2 L219.1,243.4 L219.4,244.2 L219.7,244.5 L220.0,245.5 L220.3,246.0 L220.6,246.4 L220.9,247.6 L221.2,248.4 L221.5,248.4 L221.8,248.1 L222.1,249.2 L222.3,249.5 L222.6,250.0 L222.9,250.5 L223.2,251.2 L223.5,252.3 L223.8,252.6 L224.0,252.7 L224.3,253.1 L224.6,253.8 L224.9,254.9 L225.1,255.6 L225.4,255.2 L225.7,256.0 L225.9,256.4 L226.2,256.8 L226.5,257.7 L226.7,258.3 L227.0,258.2 L227.2,258.8 L227.5,260.1 L227.7,260.4 L228.0,261.1 L228.2,261.4 L228.4,262.1 L228.7,262.7 L228.9,263.1 L229.2,263.4 L229.4,264.3 L229.6,264.9 L229.8,265.1 L230.1,266.2 L230.3,266.5 L230.5,266.4 L230.7,267.3 L230.9,267.9 L231.2,268.7 L231.4,269.2 L231.6,269.1 L231.8,269.6 L232.0,271.0 L232.2,271.3 L232.5,272.0 L232.7,272.8 L232.9,273.6 L233.1,273.4 L233.3,274.5 L233.5,274.7 L233.8,275.6 L234.0,276.2 L234.2,275.7 L234.4,276.6 L234.7,277.0 L234.9,277.7 L235.1,278.6 L235.4,279.0 L235.6,279.6 L235.8,280.7 L236.0,281.4 L236.3,281.3 L236.5,281.8 L236.7,283.4 L236.9,283.7 L237.1,283.8 L237.4,284.0 L237.6,284.5 L237.8,285.4 L237.9,285.7 L238.1,286.9 L238.3,287.2 L238.5,287.8 L238.7,287.9 L238.9,288.5 L239.0,288.9 L239.2,290.2 L239.4,290.7 L239.6,291.4 L239.7,292.1 L239.9,292.7 L240.1,293.4 L240.2,293.6 L240.4,293.8 L240.6,294.8 L240.8,295.9 L240.9,295.9 L241.1,296.2 L241.3,296.6 L241.4,297.4 L241.6,297.7 L241.8,298.1 L241.9,299.0 L242.1,300.0 L242.3,300.8 L242.4,301.4 L242.6,301.8 L242.7,302.0 L242.9,302.5 L243.1,303.3 L243.2,303.4 L243.4,304.2 L243.5,303.6 L243.7,305.1 L243.9,305.7 L244.0,306.1 L244.2,307.3 L244.4,307.5 L244.5,308.2 L244.7,308.9 L244.9,309.5 L245.1,310.7 L245.2,310.6 L245.4,311.3 L245.6,311.6 L245.8,312.4 L246.0,312.6 L246.1,313.5 L246.3,313.9 L246.5,314.6 L246.7,315.5 L246.9,315.6 L247.1,316.1 L247.3,316.9 L247.5,318.2 L247.6,318.4 L247.8,318.8 L248.0,319.2 L248.2,319.3 L248.4,320.3 L248.6,321.2 L248.8,321.7 L249.0,322.1 L249.3,322.7 L249.5,323.7 L249.7,324.0 L249.9,323.8 L250.1,324.7 L250.3,325.8 L250.5,326.0 L250.8,326.8 L251.0,326.9 L251.2,328.0 L251.4,328.0 L251.7,328.3 L251.9,329.3 L252.1,330.8 L252.4,330.3 L252.6,330.7 L252.8,331.7 L253.1,332.2 L253.3,333.1 L253.5,333.0 L253.8,333.1 L254.0,334.0 L254.3,334.9 L254.5,335.5 L254.7,336.2 L255.0,335.6 L255.2,336.9 L255.5,337.8 L255.7,338.6 L256.0,339.0 L256.2,339.1 L256.5,339.8 L256.7,340.7 L257.0,341.5 L257.2,342.3 L257.5,342.1 L257.7,342.9 L258.0,342.7 L258.2,343.3 L258.4,343.5 L258.7,344.5 L258.9,344.9 L259.2,345.6 L259.4,346.4 L259.7,346.9 L260.0,347.7 L260.2,348.1 L260.5,348.7 L260.8,349.5 L261.1,349.9 L261.4,350.2 L261.6,350.7 L262.0,351.2 L262.3,351.9 L262.6,352.0 L262.9,353.0 L263.2,353.5 L263.6,353.8 L263.9,353.8 L264.3,353.5 L264.6,355.0 L265.0,356.0 L265.4,356.6 L265.8,356.6 L266.3,356.8 L266.7,357.6 L267.2,357.4 L267.7,358.3 L268.2,358.7 L268.7,358.5 L269.2,359.2 L269.7,359.3 L270.2,359.3 L270.8,358.6 L271.3,359.5 L271.9,360.1 L272.5,360.2 L273.0,360.5 L273.6,360.5 L274.2,360.8 L274.8,361.1 L275.3,361.0 L275.9,361.2 L276.5,361.6 L277.1,361.7 L277.7,361.6 L278.3,361.9 L278.9,362.0 L279.5,362.3 L280.1,362.1 L280.7,362.3 L281.3,362.6 L281.9,362.6 L282.5,362.6 L283.1,362.3 L283.7,362.8 L284.3,362.6 L284.8,362.5 L285.4,362.9 L286.0,363.0 L286.6,363.0 L287.2,363.1 L287.8,362.9 L288.4,362.8 L289.0,362.8 L289.6,362.9 L290.2,363.0 L290.8,362.9 L291.4,363.0 L292.0,363.1 L292.6,363.1 L293.2,363.4 L293.8,363.3 L294.4,363.0 L295.0,363.0 L295.6,363.0 L296.2,362.9 L296.8,363.1 L297.4,363.0 L298.0,363.0 L298.6,363.1 L299.2,363.2 L299.8,363.1 L300.4,363.1 L301.0,363.2 L301.6,363.2 L302.2,363.3 L302.8,363.3 L303.4,363.1 L304.0,363.2 L304.6,363.2 L305.2,363.4 L305.8,363.4 L306.4,363.2 L307.0,363.4 L307.6,363.2 L308.2,363.4 L308.8,363.3 L309.4,363.1 L310.0,363.2 L310.6,363.3 L311.2,363.3 L311.8,363.3 L312.4,363.3 L313.0,363.2 L313.6,363.3 L314.2,363.3 L314.8,363.2 L315.4,363.3 L316.0,363.2 L316.6,362.7 L317.2,363.2 L317.8,363.3 L318.4,363.4 L319.0,363.3 L319.6,363.5 L320.2,363.5 L320.8,363.5 L321.4,363.6 L322.0,363.4 L322.6,363.3 L323.2,363.4 L323.8,363.5 L324.4,363.4 L325.0,363.3 L325.6,363.3 L326.2,363.5 L326.8,363.4 L327.4,363.3 L328.0,363.4 L328.6,363.4 L329.2,363.4 L329.8,363.4 L330.4,363.4 L331.0,363.2 L331.6,363.3 L332.2,363.4 L332.8,363.5 L333.4,363.4 L334.0,363.2 L334.6,363.3 L335.2,363.4 L335.8,363.5 L336.4,363.6 L337.0,363.3 L337.6,363.3 L338.2,363.2 L338.8,363.4 L339.4,363.3 L340.0,363.5 L340.6,363.6 L341.2,363.5 L341.9,363.3 L342.5,363.4 L343.1,363.5 L343.7,363.3 L344.3,363.3 L344.9,363.4 L345.5,363.5 L346.1,363.4 L346.7,363.4 L347.3,363.3 L347.9,363.3 L348.5,363.3 L349.1,363.3 L349.7,363.3 L350.3,363.4 L350.9,363.1 L351.5,363.3 L352.1,363.3 L352.7,363.4 L353.3,363.3 L353.9,363.5 L354.5,363.5 L355.1,363.3 L355.7,363.3 L356.3,363.3 L356.9,363.3 L357.5,363.2 L358.1,363.2 L358.7,363.2 L359.3,363.2 L359.9,363.2 L360.5,363.1 L361.1,363.3 L361.7,363.3 L362.2,363.4 L362.8,363.1 L363.4,363.0 L364.0,363.2 L364.6,362.9 L365.2,363.2 L365.8,363.1 L366.4,363.1 L367.0,363.1 L367.6,363.1 L368.2,363.2 L368.8,363.1 L369.4,362.8 L370.0,362.8 L370.6,362.5 L371.2,362.5 L371.8,362.4 L372.4,362.4 L373.0,362.7 L373.6,362.4 L374.2,362.2 L374.8,362.2 L375.4,362.2 L376.0,362.4 L376.6,362.0 L377.2,361.7 L377.8,362.2 L378.4,361.9 L379.0,362.0 L379.6,362.3 L380.2,362.2 L380.8,361.9 L381.4,362.1 L382.0,362.1 L382.6,362.3 L383.2,362.5 L383.8,362.8 L384.4,362.8 L385.0,362.7 L385.5,362.6 L386.1,362.9 L386.7,362.8 L387.3,363.0 L387.9,363.1 L388.5,363.0 L389.1,363.1 L389.7,363.3 L390.3,363.1 L390.9,363.1 L391.5,363.1 L392.1,363.1 L392.7,363.0 L393.3,363.3 L393.9,363.2 L394.5,363.2 L395.1,363.2 L395.7,363.1 L396.3,363.2 L396.9,363.4 L397.5,363.3 L398.1,363.3 L398.7,363.4 L399.3,363.3 L399.9,363.4 L400.5,363.3 L401.1,363.1 L401.7,363.3 L402.3,363.1 L402.9,363.2 L403.5,363.2 L404.1,363.3 L404.7,363.4 L405.3,363.3 L405.9,363.2 L406.5,363.3 L407.1,363.2 L407.7,363.1 L408.3,363.2 L408.9,363.2 L409.5,363.2 L410.1,362.8 L410.7,363.2 L411.3,363.3 L411.9,363.3 L412.5,363.2 L413.1,363.4 L413.7,363.3 L414.3,363.4 L414.9,363.5 L415.5,363.1 L416.1,363.3 L416.7,363.3 L417.3,363.3 L417.9,363.2 L418.5,363.3 L419.1,363.2 L419.7,363.3 L420.3,363.4 L420.9,363.3 L421.5,363.2 L422.1,363.3 L422.7,363.3 L423.3,363.4 L423.9,363.4 L424.5,363.4 L425.1,363.3 L425.7,363.2 L426.3,363.6 L426.9,363.6 L427.5,363.2 L428.1,363.4 L428.7,363.5 L429.3,363.6 L429.9,363.4 L430.5,363.5 L431.1,363.4 L431.7,363.4 L432.3,363.4 L432.9,363.3 L433.5,363.5 L434.1,363.4 L434.7,363.5 L435.3,363.3 L435.9,363.4 L436.5,363.2 L437.1,363.3 L437.7,363.0 L438.3,363.2 L438.9,363.3 L439.5,363.3 L440.1,363.3 L440.7,363.2 L441.3,363.4 L441.9,363.4 L442.5,363.4 L443.1,363.4 L443.7,363.4 L444.3,363.5 L445.0,363.4 L445.6,363.2 L446.2,363.4 L446.8,363.7 L447.4,363.5 L448.0,363.4 L448.6,363.5 L449.2,363.4 L449.8,363.4 L450.4,363.2 L451.0,363.3 L451.6,363.5 L452.2,363.3 L452.8,363.4 L453.4,363.6 L454.0,363.4 L454.6,363.4 L455.2,363.3 L455.8,363.2 L456.4,363.3 L457.0,363.2 L457.6,363.2 L458.2,363.5 L458.8,363.4 L459.4,363.5 L460.0,363.4 L460.6,363.4 L461.2,363.5 L461.8,363.4 L462.4,363.3 L463.0,363.4 L463.6,363.3 L464.2,363.4 L464.8,363.6 L465.4,363.4 L466.0,363.5 L466.6,363.3 L467.2,363.4 L467.8,363.4 L468.4,363.3 L469.0,363.2 L469.6,363.2 L470.2,363.3 L470.8,363.2 L471.4,363.4 L472.0,363.5 L472.6,363.4 L473.2,363.3 L473.8,363.3 L474.4,363.4 L475.0,363.4 L475.6,363.4 L476.2,363.4 L476.8,363.5 L477.3,363.3 L477.9,363.1 L478.5,363.3 L479.1,363.4 L479.7,363.4 L480.3,363.2 L480.9,363.5 L481.5,363.5 L482.1,363.4 L482.7,363.3 L483.3,363.5 L483.9,363.5 L484.5,363.5 L485.1,363.3 L485.7,363.2 L486.3,363.2 L486.9,363.0 L487.5,363.0 L488.1,362.8 L488.7,362.8 L489.3,362.8 L489.9,362.6 L490.5,362.4 L491.1,362.4 L491.7,362.4 L492.3,362.3 L492.9,362.5 L493.5,362.4 L494.1,362.2 L494.7,362.5 L495.3,362.7 L495.9,362.6 L496.5,362.6 L497.1,362.6 L497.7,362.5 L498.3,362.4 L498.9,362.6 L499.5,362.8 L500.1,362.4 L500.7,362.4 L501.3,362.4 L501.9,362.3 L502.5,362.4 L503.1,362.4 L503.7,362.4 L504.3,362.3 L504.9,362.3 L505.5,362.5 L506.1,362.5 L506.7,362.3 L507.3,362.6 L507.9,362.6 L508.4,363.1 L509.0,363.2 L509.6,363.2 L510.2,363.1 L510.8,363.1 L511.4,363.3 L512.0,363.3 L512.6,363.3 L513.2,363.4 L513.8,363.4 L514.4,363.4 L515.0,363.2 L515.6,363.2 L516.2,363.4 L516.8,363.4 L517.4,363.4 L518.0,363.8 L518.6,363.5 L519.2,363.3 L519.8,363.4 L520.4,363.5 L521.0,363.4 L521.6,363.4 L522.2,363.5 L522.8,363.3 L523.4,363.3 L524.0,363.3 L524.6,363.3 L525.2,363.3 L525.8,363.5 L526.4,363.4 L527.0,363.6 L527.6,363.5 L528.2,363.3 L528.8,363.5 L529.4,363.4 L530.0,363.5 L530.6,363.5 L531.2,363.4 L531.8,363.5 L532.4,363.4 L533.0,363.5 L533.2,363.5" stroke="#00ff00" stroke-width="1.65"/>
<path d="M95.6,352.1 L96.2,352.5 L96.8,352.3 L97.4,353.0 L98.0,353.4 L98.6,352.6 L99.2,352.2 L99.8,353.3 L100.4,353.3 L101.0,354.0 L101.6,353.8 L102.2,353.8 L102.8,353.8 L103.4,353.2 L104.0,353.1 L104.6,352.8 L105.2,353.0 L105.8,353.6 L106.4,353.5 L107.0,352.9 L107.6,352.8 L108.2,353.0 L108.8,352.9 L109.4,353.3 L110.0,353.6 L110.6,352.2 L111.2,352.0 L111.8,353.1 L112.4,352.5 L113.0,352.8 L113.6,352.6 L114.2,353.3 L114.8,353.4 L115.4,353.2 L116.0,353.4 L116.6,353.2 L117.2,353.6 L117.8,354.0 L118.4,353.7 L119.0,352.9 L119.6,352.8 L120.2,352.7 L120.8,353.0 L121.4,353.1 L122.0,352.9 L122.6,353.3 L123.2,353.3 L123.8,353.1 L124.4,353.0 L125.0,353.1 L125.6,352.5 L126.2,353.3 L126.8,352.9 L127.4,353.1 L128.0,353.1 L128.6,353.3 L129.2,353.2 L129.8,353.2 L130.4,352.7 L131.0,352.2 L131.6,352.8 L132.2,352.8 L132.8,352.6 L133.4,353.4 L134.0,352.1 L134.6,352.7 L135.2,353.2 L135.8,353.4 L136.4,353.4 L137.0,352.6 L137.6,352.7 L138.2,353.2 L138.8,353.0 L139.4,353.5 L140.0,353.0 L140.6,352.9 L141.2,353.0 L141.8,352.6 L142.4,352.8 L143.0,352.7 L143.6,352.8 L144.2,352.7 L144.8,353.0 L145.4,352.5 L146.0,352.4 L146.6,353.1 L147.2,352.9 L147.8,352.3 L148.4,352.1 L149.0,352.0 L149.6,353.1 L150.2,352.3 L150.8,353.3 L151.4,352.8 L152.0,353.2 L152.6,353.0 L153.2,352.8 L153.8,353.1 L154.4,352.9 L155.0,352.6 L155.6,352.5 L156.2,353.5 L156.8,353.4 L157.4,352.9 L158.0,352.6 L158.6,352.8 L159.2,352.8 L159.8,353.2 L160.4,352.3 L161.0,352.5 L161.6,352.1 L162.2,353.0 L162.8,353.3 L163.4,352.9 L164.0,353.2 L164.6,353.7 L165.2,353.0 L165.8,352.5 L166.4,353.1 L167.0,352.7 L167.6,352.2 L168.2,352.5 L168.8,352.2 L169.4,351.5 L170.0,352.3 L170.6,352.4 L171.2,353.1 L171.8,352.5 L172.4,352.3 L173.0,352.4 L173.6,352.2 L174.2,351.7 L174.8,352.2 L175.4,352.1 L176.0,353.0 L176.6,353.3 L177.2,351.5 L177.8,351.8 L178.4,351.9 L179.0,352.0 L179.6,352.0 L180.2,352.6 L180.8,352.8 L181.4,351.9 L182.0,351.8 L182.6,351.8 L183.2,352.7 L183.8,352.6 L184.4,351.6 L185.0,351.4 L185.6,352.1 L186.2,352.6 L186.8,352.8 L187.4,352.4 L188.0,352.4 L188.6,352.2 L189.2,351.8 L189.8,352.5 L190.4,351.9 L191.0,351.6 L191.6,351.8 L192.2,351.4 L192.8,352.1 L193.4,352.3 L194.0,351.5 L194.6,353.1 L195.2,352.9 L195.8,352.3 L196.4,351.8 L197.0,352.0 L197.6,352.1 L198.2,351.8 L198.8,351.8 L199.4,352.0 L200.0,352.1 L200.6,352.4 L201.2,351.9 L201.8,352.9 L202.4,352.8 L203.0,352.4 L203.6,352.1 L204.2,352.8 L204.8,352.3 L205.4,353.0 L206.0,353.0 L206.6,352.0 L207.2,352.2 L207.8,353.0 L208.4,352.7 L209.0,352.1 L209.6,352.4 L210.2,352.2 L210.8,352.0 L211.4,352.1 L212.0,351.9 L212.6,351.9 L213.2,352.2 L213.8,351.7 L214.4,352.2 L215.0,352.0 L215.6,352.3 L216.2,352.4 L216.8,352.6 L217.4,352.3 L218.0,352.3 L218.6,351.8 L219.2,351.9 L219.8,351.5 L220.4,351.8 L221.0,352.1 L221.6,352.1 L222.2,352.2 L222.8,351.8 L223.4,352.3 L224.0,351.8 L224.6,351.9 L225.2,351.6 L225.8,351.7 L226.4,351.3 L227.0,350.1 L227.6,350.3 L228.2,350.8 L228.8,350.8 L229.4,351.4 L230.0,351.7 L230.6,350.3 L231.2,350.5 L231.8,351.0 L232.4,351.4 L233.0,351.0 L233.6,351.3 L234.2,350.9 L234.8,350.9 L235.4,351.1 L236.0,350.4 L236.5,349.8 L237.1,350.2 L237.7,350.4 L238.3,350.2 L238.9,350.3 L239.5,350.2 L240.1,349.9 L240.7,350.4 L241.3,350.0 L241.9,349.5 L242.5,349.5 L243.1,350.1 L243.7,350.6 L244.3,350.1 L244.9,350.4 L245.5,349.7 L246.1,348.3 L246.6,349.1 L247.2,348.1 L247.8,348.3 L248.4,348.4 L249.0,349.3 L249.6,348.2 L250.2,348.4 L250.8,348.9 L251.4,348.6 L252.0,347.7 L252.6,348.0 L253.2,347.9 L253.8,348.0 L254.4,348.1 L254.9,347.7 L255.5,347.6 L256.1,348.0 L256.7,346.9 L257.3,347.3 L257.8,347.1 L258.4,346.4 L259.0,346.3 L259.5,346.0 L260.1,346.3 L260.7,346.1 L261.2,346.9 L261.8,346.5 L262.4,345.7 L262.9,345.4 L263.5,345.5 L264.0,345.1 L264.6,344.2 L265.1,345.3 L265.7,344.4 L266.3,344.1 L266.8,343.4 L267.4,344.2 L267.9,345.5 L268.5,343.5 L269.0,342.5 L269.6,342.6 L270.1,342.4 L270.7,342.4 L271.2,342.0 L271.8,341.9 L272.3,341.2 L272.9,341.0 L273.4,340.4 L274.0,340.4 L274.5,340.4 L275.1,339.8 L275.6,339.9 L276.1,339.2 L276.7,339.2 L277.2,339.2 L277.7,339.4 L278.3,338.5 L278.8,338.5 L279.3,337.3 L279.8,337.2 L280.3,337.2 L280.9,337.0 L281.4,336.0 L281.9,335.7 L282.4,336.1 L282.9,335.4 L283.5,335.9 L284.0,335.3 L284.5,335.2 L285.0,335.8 L285.6,335.3 L286.1,334.2 L286.6,333.1 L287.1,333.4 L287.7,332.8 L288.2,332.7 L288.8,332.8 L289.3,331.7 L289.8,332.3 L290.4,331.9 L290.9,331.4 L291.4,332.1 L292.0,331.0 L292.5,330.7 L293.1,330.4 L293.6,329.3 L294.1,329.2 L294.7,329.2 L295.2,329.5 L295.7,329.3 L296.3,328.9 L296.8,328.0 L297.3,326.9 L297.9,327.6 L298.4,327.6 L298.9,328.1 L299.4,328.2 L300.0,328.2 L300.5,327.3 L301.0,326.5 L301.5,325.5 L302.0,325.5 L302.6,324.7 L303.1,325.5 L303.6,324.5 L304.2,324.4 L304.7,323.9 L305.2,323.9 L305.8,323.9 L306.3,323.3 L306.9,323.2 L307.4,322.8 L307.9,323.3 L308.5,322.6 L309.0,322.7 L309.6,322.6 L310.2,320.8 L310.7,320.7 L311.3,320.8 L311.8,321.2 L312.4,320.5 L312.9,320.3 L313.5,319.8 L314.1,320.0 L314.6,319.4 L315.2,319.7 L315.8,318.4 L316.4,318.5 L316.9,320.0 L317.5,319.3 L318.1,319.0 L318.7,319.9 L319.3,319.7 L319.9,319.3 L320.5,318.7 L321.0,318.7 L321.6,318.4 L322.2,317.7 L322.8,318.2 L323.4,317.9 L324.0,318.5 L324.6,318.4 L325.2,317.5 L325.8,317.5 L326.4,318.0 L327.0,318.2 L327.6,317.6 L328.2,317.8 L328.8,317.9 L329.3,317.7 L329.9,317.7 L330.5,317.3 L331.0,316.3 L331.6,316.0 L332.2,316.6 L332.7,316.2 L333.2,316.0 L333.8,315.6 L334.3,314.8 L334.8,314.5 L335.3,313.6 L335.9,313.8 L336.3,313.8 L336.8,314.5 L337.3,313.6 L337.8,313.0 L338.3,312.8 L338.7,312.5 L339.2,311.2 L339.7,311.1 L340.1,310.5 L340.6,311.0 L341.0,309.7 L341.4,308.8 L341.9,309.4 L342.3,311.2 L342.7,308.7 L343.2,309.7 L343.6,308.4 L344.0,307.8 L344.4,306.6 L344.8,305.9 L345.2,305.0 L345.7,304.5 L346.1,303.6 L346.5,304.3 L346.9,303.5 L347.3,303.4 L347.6,303.0 L348.0,302.2 L348.3,302.0 L348.7,301.6 L349.0,301.1 L349.3,300.8 L349.6,300.4 L349.9,299.4 L350.2,298.5 L350.4,298.1 L350.7,298.0 L350.9,298.0 L351.2,297.4 L351.5,296.8 L351.7,296.5 L351.9,295.8 L352.2,295.4 L352.4,294.6 L352.6,293.8 L352.9,292.9 L353.1,292.4 L353.3,292.2 L353.5,290.7 L353.8,290.3 L354.0,289.6 L354.2,289.8 L354.4,289.6 L354.6,288.0 L354.9,285.4 L355.1,287.2 L355.3,286.8 L355.5,285.4 L355.7,285.3 L355.9,285.0 L356.2,284.1 L356.4,284.4 L356.6,283.9 L356.8,283.2 L357.0,282.1 L357.2,281.1 L357.4,281.0 L357.6,280.8 L357.8,279.9 L358.0,280.8 L358.2,279.1 L358.4,277.9 L358.6,278.6 L358.8,277.6 L359.0,276.7 L359.2,276.1 L359.4,274.8 L359.6,274.7 L359.8,273.3 L360.0,273.3 L360.2,273.8 L360.4,273.3 L360.6,271.9 L360.8,271.3 L361.0,271.3 L361.2,270.5 L361.4,270.1 L361.6,269.5 L361.9,268.3 L362.1,268.2 L362.3,266.1 L362.5,267.2 L362.7,265.9 L362.9,265.7 L363.1,265.1 L363.4,265.1 L363.6,264.8 L363.8,264.2 L364.0,263.5 L364.2,262.9 L364.4,262.0 L364.6,260.8 L364.9,259.8 L365.1,259.4 L365.3,260.0 L365.5,259.3 L365.7,258.4 L365.9,258.0 L366.1,257.3 L366.3,256.1 L366.5,255.5 L366.7,255.1 L366.9,255.7 L367.1,254.9 L367.3,253.6 L367.5,253.2 L367.7,253.1 L367.9,252.8 L368.1,251.7 L368.3,251.5 L368.5,251.1 L368.7,249.6 L368.9,249.4 L369.1,249.0 L369.3,248.4 L369.4,249.0 L369.6,248.1 L369.8,246.9 L370.0,246.0 L370.2,245.8 L370.4,245.3 L370.6,244.1 L370.7,243.3 L370.9,242.4 L371.1,242.5 L371.3,242.2 L371.4,241.9 L371.6,241.4 L371.8,240.7 L371.9,239.6 L372.1,239.1 L372.3,239.2 L372.4,238.5 L372.6,237.5 L372.8,237.3 L372.9,237.0 L373.1,236.3 L373.3,235.1 L373.5,234.3 L373.6,234.3 L373.8,234.1 L374.0,233.0 L374.2,232.1 L374.4,231.9 L374.6,230.6 L374.8,230.4 L375.0,229.7 L375.2,230.0 L375.4,229.0 L375.7,228.8 L376.1,229.0 L376.6,227.8 L377.2,227.3 L377.6,227.5 L377.9,227.6 L378.1,227.8 L378.2,228.0 L378.4,228.9 L378.5,229.4 L378.6,229.5 L378.7,230.9 L378.8,231.9 L378.9,233.3 L379.0,232.6 L379.1,233.0 L379.2,234.4 L379.3,234.8 L379.4,235.7 L379.5,236.6 L379.5,237.5 L379.6,237.6 L379.7,237.7 L379.7,239.0 L379.8,239.2 L379.9,239.7 L379.9,241.3 L380.0,241.3 L380.1,241.0 L380.1,241.6 L380.2,242.3 L380.2,242.7 L380.3,243.2 L380.3,244.6 L380.4,245.5 L380.5,245.7 L380.5,245.8 L380.6,246.5 L380.6,247.3 L380.7,247.4 L380.7,248.3 L380.8,248.9 L380.8,250.1 L380.9,250.6 L381.0,250.3 L381.0,251.1 L381.1,252.4 L381.1,252.1 L381.2,252.6 L381.2,253.2 L381.2,254.4 L381.3,254.7 L381.3,255.0 L381.4,255.7 L381.4,256.7 L381.5,257.9 L381.5,258.5 L381.6,258.7 L381.6,260.1 L381.7,260.1 L381.7,260.2 L381.8,261.1 L381.8,261.3 L381.9,261.8 L381.9,262.5 L382.0,263.5 L382.0,263.9 L382.0,264.4 L382.1,265.8 L382.1,266.2 L382.2,267.3 L382.2,267.5 L382.3,268.1 L382.3,268.5 L382.4,269.5 L382.4,269.3 L382.4,270.1 L382.5,270.8 L382.5,270.4 L382.6,271.8 L382.6,272.9 L382.7,273.1 L382.7,274.3 L382.8,274.7 L382.8,275.0 L382.8,275.4 L382.9,276.7 L382.9,276.5 L383.0,277.4 L383.0,278.4 L383.1,279.3 L383.1,280.1 L383.2,280.1 L383.2,280.0 L383.3,281.6 L383.3,282.2 L383.4,282.5 L383.4,283.6 L383.5,284.1 L383.5,283.6 L383.5,283.7 L383.6,284.0 L383.6,285.8 L383.6,286.7 L383.7,287.3 L383.7,287.3 L383.8,287.8 L383.8,288.1 L383.8,288.7 L383.9,289.3 L383.9,289.9 L383.9,290.8 L384.0,292.0 L384.0,292.5 L384.0,292.7 L384.1,293.1 L384.1,294.0 L384.1,294.8 L384.2,295.2 L384.2,296.0 L384.2,296.4 L384.3,297.0 L384.3,297.8 L384.4,297.9 L384.4,299.1 L384.4,298.6 L384.5,299.7 L384.5,299.9 L384.6,301.4 L384.6,302.0 L384.6,302.1 L384.7,302.6 L384.7,303.0 L384.8,304.3 L384.8,305.3 L384.8,306.5 L384.9,305.5 L384.9,307.1 L384.9,306.9 L385.0,307.9 L385.0,308.6 L385.0,309.2 L385.0,309.8 L385.1,310.1 L385.1,311.0 L385.1,311.7 L385.2,312.5 L385.2,311.7 L385.2,313.2 L385.3,313.5 L385.3,313.8 L385.4,315.2 L385.4,316.2 L385.5,317.5 L385.5,317.6 L385.6,317.1 L385.6,318.0 L385.7,318.4 L385.8,319.6 L385.8,320.5 L385.9,321.0 L386.0,321.4 L386.0,321.5 L386.1,321.1 L386.2,321.7 L386.3,323.0 L386.4,324.1 L386.5,325.0 L386.6,325.2 L386.8,325.9 L387.0,326.5 L387.1,327.3 L387.3,327.4 L387.6,327.6 L387.8,329.1 L388.0,329.7 L388.3,330.2 L388.5,330.1 L388.8,330.7 L389.2,330.6 L389.6,331.0 L390.0,332.2 L390.4,332.7 L390.8,333.6 L391.3,334.1 L391.8,334.1 L392.3,334.6 L392.8,334.2 L393.3,334.8 L393.9,334.6 L394.5,335.1 L395.1,335.3 L395.7,335.5 L396.3,335.7 L396.9,334.7 L397.5,335.2 L398.1,334.9 L398.7,335.0 L399.3,335.0 L399.9,334.5 L400.5,334.3 L401.1,334.1 L401.7,334.6 L402.2,334.1 L402.8,334.4 L403.4,333.9 L403.9,335.1 L404.5,333.7 L405.0,334.0 L405.6,333.1 L406.1,332.9 L406.7,332.4 L407.2,332.3 L407.7,332.1 L408.3,332.5 L408.8,332.1 L409.4,331.9 L409.9,331.9 L410.4,330.6 L411.0,330.8 L411.5,330.1 L412.0,329.1 L412.5,329.5 L413.1,329.4 L413.6,329.8 L414.1,328.8 L414.6,328.7 L415.1,328.4 L415.6,327.2 L416.2,327.6 L416.7,326.8 L417.2,327.4 L417.7,327.1 L418.2,325.9 L418.7,324.9 L419.2,325.2 L419.6,325.0 L420.1,324.9 L420.6,324.5 L421.1,324.0 L421.6,324.1 L422.1,323.6 L422.6,323.9 L423.1,322.7 L423.5,322.0 L424.0,321.8 L424.5,320.9 L425.0,321.0 L425.5,320.7 L425.9,320.5 L426.4,320.1 L426.9,320.4 L427.4,319.7 L427.8,318.5 L428.3,318.4 L428.8,318.6 L429.2,317.8 L429.7,317.4 L430.1,317.1 L430.6,317.0 L431.1,316.1 L431.5,315.7 L431.9,315.3 L432.4,315.3 L432.8,314.7 L433.3,315.1 L433.7,314.4 L434.2,313.9 L434.6,313.7 L435.1,313.1 L435.5,312.7 L436.0,312.1 L436.4,311.0 L436.9,311.0 L437.3,310.8 L437.8,310.9 L438.2,309.8 L438.6,309.3 L439.0,308.8 L439.4,308.9 L439.8,308.9 L440.2,307.3 L440.6,307.1 L440.9,306.7 L441.3,306.1 L441.7,306.0 L442.0,305.0 L442.3,305.4 L442.7,304.7 L443.0,303.8 L443.3,304.2 L443.6,304.2 L444.0,302.9 L444.3,301.3 L444.6,300.9 L444.9,300.3 L445.2,300.2 L445.5,299.8 L445.9,297.7 L446.2,298.4 L446.5,298.1 L446.8,297.8 L447.1,296.9 L447.4,295.8 L447.7,295.6 L448.0,295.0 L448.3,294.7 L448.6,294.6 L448.8,294.0 L449.1,293.7 L449.4,292.8 L449.7,293.6 L450.0,292.9 L450.3,291.9 L450.6,290.3 L450.9,289.4 L451.2,289.2 L451.5,289.2 L451.8,289.6 L452.1,288.9 L452.4,287.6 L452.7,287.6 L453.1,287.2 L453.4,286.3 L453.7,286.9 L454.0,285.4 L454.3,284.3 L454.6,283.0 L455.0,283.6 L455.3,283.2 L455.7,282.1 L456.0,281.7 L456.4,281.9 L456.8,280.5 L457.1,281.6 L457.5,280.4 L458.0,280.3 L458.4,280.0 L458.8,278.6 L459.3,278.2 L459.8,279.0 L460.2,277.7 L460.7,277.4 L461.2,276.9 L461.7,277.0 L462.2,277.1 L462.8,276.6 L463.3,275.9 L463.9,276.0 L464.5,276.2 L465.1,276.3 L465.7,275.7 L466.3,276.1 L466.9,275.2 L467.5,275.5 L468.1,276.0 L468.6,276.0 L469.2,275.7 L469.8,275.4 L470.3,275.2 L470.9,276.1 L471.5,276.4 L472.0,276.5 L472.6,276.1 L473.2,276.6 L473.7,277.3 L474.3,277.8 L474.8,277.4 L475.4,278.0 L476.0,277.9 L476.5,278.8 L477.1,280.4 L477.6,279.5 L478.2,279.1 L478.8,279.3 L479.3,279.1 L479.9,279.2 L480.5,279.8 L481.0,280.3 L481.6,280.8 L482.2,279.8 L482.7,280.5 L483.3,280.9 L483.9,279.8 L484.5,280.5 L485.1,280.0 L485.7,280.8 L486.3,281.3 L486.9,280.9 L487.5,281.1 L488.1,280.8 L488.7,281.3 L489.3,281.7 L489.9,281.4 L490.5,281.5 L491.1,282.0 L491.7,282.0 L492.3,281.3 L492.8,281.8 L493.4,281.9 L494.0,282.3 L494.6,282.8 L495.2,282.6 L495.8,283.0 L496.3,282.4 L496.9,282.9 L497.5,283.0 L498.1,283.7 L498.6,284.0 L499.2,284.0 L499.8,283.7 L500.3,284.3 L500.9,284.5 L501.4,285.3 L502.0,285.3 L502.5,285.8 L503.1,285.6 L503.6,285.1 L504.1,285.5 L504.6,285.3 L505.2,286.6 L505.7,287.1 L506.2,286.9 L506.7,287.2 L507.2,286.9 L507.8,285.8 L508.3,288.1 L508.8,288.5 L509.2,288.7 L509.7,289.5 L510.2,290.1 L510.7,290.7 L511.2,292.4 L511.7,291.5 L512.3,291.4 L512.8,291.7 L513.4,291.9 L513.9,291.3 L514.5,292.4 L515.1,292.3 L515.7,292.0 L516.3,292.4 L516.9,294.0 L517.5,293.2 L518.1,293.2 L518.7,293.4 L519.3,292.8 L519.9,292.4 L520.5,292.3 L521.1,291.6 L521.7,291.9 L522.2,291.0 L522.7,291.4 L523.2,291.3 L523.7,290.3 L524.2,290.9 L524.6,289.4 L525.1,289.8 L525.5,289.0 L525.9,288.8 L526.3,288.0 L526.7,288.7 L527.1,287.9 L527.5,287.5 L527.9,286.5 L528.3,286.0 L528.7,285.2 L529.0,284.5 L529.4,284.3 L529.8,283.6 L530.2,282.9 L530.5,281.9 L530.9,281.9 L531.2,281.7 L531.6,281.2 L531.9,281.1 L532.3,280.6 L532.6,279.6 L532.9,279.0 L533.2,278.6" stroke="#0000ff" stroke-width="1.65"/>
<line x1="95.5" y1="363.95" x2="533.3" y2="363.95" stroke="#00ffff" stroke-width="1.65"/>
</g>
<rect x="266.6" y="14.35" width="60.799999999999955" height="351.5" fill="#ff8c00" fill-opacity="0.36"/>
<line x1="266.6" y1="14.95" x2="266.6" y2="365.85" stroke="#2a1a08" stroke-width="1.2" stroke-dasharray="4.6 4.1"/>
<line x1="327.4" y1="14.95" x2="327.4" y2="365.85" stroke="#2a1a08" stroke-width="1.2" stroke-dasharray="4.6 4.1"/>
<g stroke="#000" stroke-width="1.4" fill="none">
<rect x="95.5" y="14.35" width="437.79999999999995" height="351.5"/>
<line x1="88.3" y1="365.85" x2="95.5" y2="365.85"/>
<line x1="92.1" y1="330.70" x2="95.5" y2="330.70"/>
<line x1="88.3" y1="295.55" x2="95.5" y2="295.55"/>
<line x1="92.1" y1="260.40" x2="95.5" y2="260.40"/>
<line x1="88.3" y1="225.25" x2="95.5" y2="225.25"/>
<line x1="92.1" y1="190.10" x2="95.5" y2="190.10"/>
<line x1="88.3" y1="154.95" x2="95.5" y2="154.95"/>
<line x1="92.1" y1="119.80" x2="95.5" y2="119.80"/>
<line x1="88.3" y1="84.65" x2="95.5" y2="84.65"/>
<line x1="92.1" y1="49.50" x2="95.5" y2="49.50"/>
<line x1="88.3" y1="14.35" x2="95.5" y2="14.35"/>
<line x1="114.42" y1="365.85" x2="114.42" y2="369.25"/>
<line x1="152.50" y1="365.85" x2="152.50" y2="373.05"/>
<line x1="190.58" y1="365.85" x2="190.58" y2="369.25"/>
<line x1="228.66" y1="365.85" x2="228.66" y2="373.05"/>
<line x1="266.74" y1="365.85" x2="266.74" y2="369.25"/>
<line x1="304.82" y1="365.85" x2="304.82" y2="373.05"/>
<line x1="342.90" y1="365.85" x2="342.90" y2="369.25"/>
<line x1="380.98" y1="365.85" x2="380.98" y2="373.05"/>
<line x1="419.06" y1="365.85" x2="419.06" y2="369.25"/>
<line x1="457.14" y1="365.85" x2="457.14" y2="373.05"/>
<line x1="495.22" y1="365.85" x2="495.22" y2="369.25"/>
<line x1="533.30" y1="365.85" x2="533.30" y2="373.05"/>
</g>
<g font-family="'Liberation Serif', 'DejaVu Serif', serif" font-size="15" fill="#000">
<text transform="translate(83.2,369.2) scale(1,1.06)" text-anchor="end">0</text>
<text transform="translate(83.2,298.9) scale(1,1.06)" text-anchor="end">20,000</text>
<text transform="translate(83.2,228.6) scale(1,1.06)" text-anchor="end">40,000</text>
<text transform="translate(83.2,158.3) scale(1,1.06)" text-anchor="end">60,000</text>
<text transform="translate(83.2,88.0) scale(1,1.06)" text-anchor="end">80,000</text>
<text transform="translate(83.2,17.7) scale(1,1.06)" text-anchor="end">100,000</text>
<text transform="translate(152.5,388.5) scale(1,1.04)" text-anchor="middle">100</text>
<text transform="translate(228.7,388.5) scale(1,1.04)" text-anchor="middle">200</text>
<text transform="translate(304.8,388.5) scale(1,1.04)" text-anchor="middle">300</text>
<text transform="translate(381.0,388.5) scale(1,1.04)" text-anchor="middle">400</text>
<text transform="translate(457.1,388.5) scale(1,1.04)" text-anchor="middle">500</text>
<text transform="translate(533.3,388.5) scale(1,1.04)" text-anchor="middle">600</text>
</g>
<text x="314.2" y="420" text-anchor="middle" font-family="'Liberation Serif', serif" font-size="19.8" textLength="143.2" lengthAdjust="spacingAndGlyphs" fill="#000">Temperature (°C)</text>
<text transform="translate(19.3,179.9) rotate(-90)" text-anchor="middle" textLength="47.2" lengthAdjust="spacingAndGlyphs" font-family="'Liberation Serif', serif" font-size="19.8" fill="#000">I (nA)</text>
<g font-family="'Liberation Serif', serif" font-weight="bold" font-size="17.7" fill="#ff8000">
<text transform="translate(260.7,106.6) rotate(-90)" text-anchor="middle">250 °C</text>
<text transform="translate(348.6,106.6) rotate(-90)" text-anchor="middle">330 °C</text>
</g>
<text x="472.2" y="44.9" text-anchor="middle" font-family="'Liberation Serif', serif" font-weight="bold" font-size="18" textLength="98.5" lengthAdjust="spacingAndGlyphs" fill="#000">CPO-27-Mg</text>
<g font-family="'Liberation Serif', serif" font-size="15.2" fill="#000" stroke="#000" stroke-width="0.25">
<line x1="419.6" y1="64.4" x2="462.4" y2="64.4" stroke="#000000" stroke-width="1.5"/>
<text x="466.5" y="70.1" textLength="58.2" lengthAdjust="spacingAndGlyphs">m/z = 18</text>
<line x1="419.6" y1="87.7" x2="462.4" y2="87.7" stroke="#ff0000" stroke-width="1.5"/>
<text x="466.5" y="93.4" textLength="58.2" lengthAdjust="spacingAndGlyphs">m/z = 29</text>
<line x1="419.6" y1="111.0" x2="462.4" y2="111.0" stroke="#00ff00" stroke-width="1.5"/>
<text x="466.5" y="116.7" textLength="58.2" lengthAdjust="spacingAndGlyphs">m/z = 31</text>
<line x1="419.6" y1="134.3" x2="462.4" y2="134.3" stroke="#0000ff" stroke-width="1.5"/>
<text x="466.5" y="140.0" textLength="58.2" lengthAdjust="spacingAndGlyphs">m/z = 44</text>
<line x1="419.6" y1="157.6" x2="462.4" y2="157.6" stroke="#00ffff" stroke-width="1.5"/>
<text x="466.5" y="163.3" textLength="58.2" lengthAdjust="spacingAndGlyphs">m/z = 73</text>
</g>
</svg>
</body>
</html>
